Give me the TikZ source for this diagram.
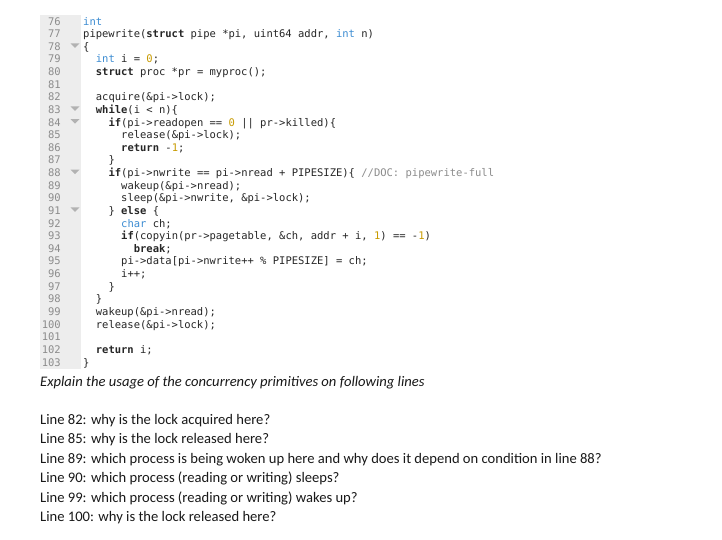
\documentclass[tikz,border=0pt]{standalone}
\usepackage{fontspec}
\setmainfont{Carlito}
\setmonofont{DejaVu Sans Mono}
\definecolor{kw}{HTML}{3C8CD2}
\definecolor{num}{HTML}{C89B00}
\definecolor{cmt}{HTML}{8C8C8C}
\definecolor{lnum}{HTML}{8C8C8C}
\definecolor{gut}{HTML}{EDEDED}
\newcommand{\K}[1]{\textcolor{kw}{#1}}
\newcommand{\N}[1]{\textcolor{num}{#1}}
\newcommand{\B}[1]{\textbf{#1}}
\tikzset{x=1pt,y=-1pt,
 code/.style={anchor=base west,inner sep=0pt,font=\ttfamily\fontsize{10.5}{12}\selectfont,text=black!85},
 lno/.style={anchor=base east,inner sep=0pt,font=\ttfamily\fontsize{10.5}{12}\selectfont,text=lnum},
 fold/.style={fill=black!30,draw=none},
 qtext/.style={anchor=base west,inner sep=0pt,font=\fontsize{14.6}{17}\selectfont,text=black!90}}
\newcommand{\cl}[3]{% line number, indent chars, text
 \pgfmathsetmacro{\yy}{25+12.63*(#1-76)}
 \node[lno] (n#1) at (61,\yy) {#1};
 \node[code] (c#1) at ({83+6.33*#2},\yy) {#3};}
\newcommand{\fd}[1]{\pgfmathsetmacro{\yy}{25+12.63*(#1-76)-7}
 \fill[fold] (70.5,\yy) -- (79.5,\yy) -- (75,\yy+4.5) -- cycle;}
\begin{document}
\begin{tikzpicture}
\useasboundingbox (0,0) rectangle (722,539);
\fill[white] (0,0) rectangle (722,539);
\fill[gut] (40,15) rectangle (81,369);
\cl{76}{0}{\K{int}}
\cl{77}{0}{pipewrite(\B{struct} pipe *pi, uint64 addr, \K{int} n)}
\cl{78}{0}{\{}
\cl{79}{2}{\K{int} i = \N{0};}
\cl{80}{2}{\B{struct} proc *pr = myproc();}
\cl{81}{0}{}
\cl{82}{2}{acquire(\&pi->lock);}
\cl{83}{2}{\B{while}(i < n)\{}
\cl{84}{4}{\B{if}(pi->readopen == \N{0} || pr->killed)\{}
\cl{85}{6}{release(\&pi->lock);}
\cl{86}{6}{\B{return} -\N{1};}
\cl{87}{4}{\}}
\cl{88}{4}{\B{if}(pi->nwrite == pi->nread + PIPESIZE)\{ \textcolor{cmt}{//DOC: pipewrite-full}}
\cl{89}{6}{wakeup(\&pi->nread);}
\cl{90}{6}{sleep(\&pi->nwrite, \&pi->lock);}
\cl{91}{4}{\} \B{else} \{}
\cl{92}{6}{\K{char} ch;}
\cl{93}{6}{\B{if}(copyin(pr->pagetable, \&ch, addr + i, \N{1}) == -\N{1})}
\cl{94}{8}{\B{break};}
\cl{95}{6}{pi->data[pi->nwrite++ \% PIPESIZE] = ch;}
\cl{96}{6}{i++;}
\cl{97}{4}{\}}
\cl{98}{2}{\}}
\cl{99}{2}{wakeup(\&pi->nread);}
\cl{100}{2}{release(\&pi->lock);}
\cl{101}{0}{}
\cl{102}{2}{\B{return} i;}
\cl{103}{0}{\}}
\fd{78}\fd{83}\fd{84}\fd{88}\fd{91}
\node[qtext] (q0) at (40,386) {\itshape Explain the usage of the concurrency primitives on following lines};
\node[qtext] (q1) at (40,424) {Line 82: why is the lock acquired here?};
\node[qtext] (q2) at (40,443.5) {Line 85: why is the lock released here?};
\node[qtext] (q3) at (40,463) {Line 89: which process is being woken up here and why does it depend on condition in line 88?};
\node[qtext] (q4) at (40,482.5) {Line 90: which process (reading or writing) sleeps?};
\node[qtext] (q5) at (40,502) {Line 99: which process (reading or writing) wakes up?};
\node[qtext] (q6) at (40,521.5) {Line 100: why is the lock released here?};
\end{tikzpicture}
\end{document}
